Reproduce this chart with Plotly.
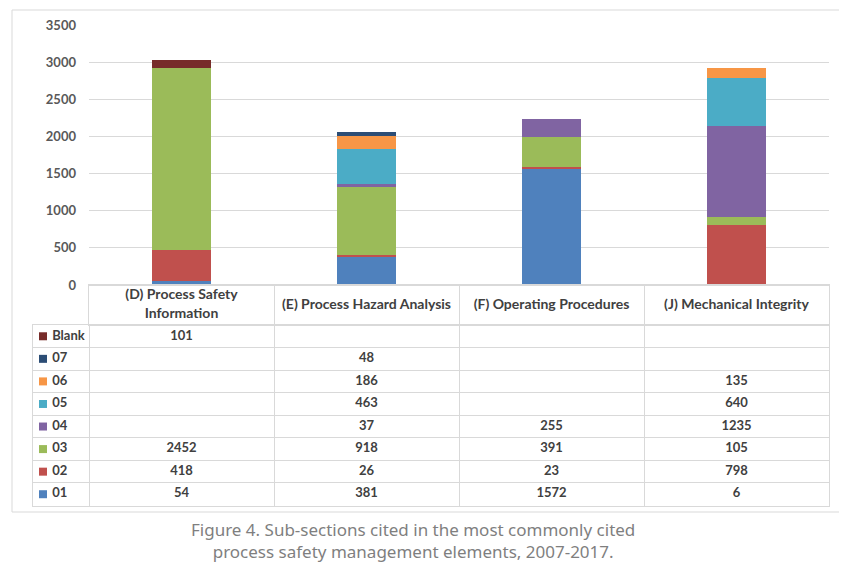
import plotly.graph_objects as go

# Elements (x categories) and header text for the data table
elements = ['(D) Process Safety Information', '(E) Process Hazard Analysis',
            '(F) Operating Procedures', '(J) Mechanical Integrity']
header_labels = ['(D) Process Safety<br>Information', '(E) Process Hazard Analysis',
                 '(F) Operating Procedures', '(J) Mechanical Integrity']

# Sub-section citation counts (None = no citation)
sections = ['01', '02', '03', '04', '05', '06', '07', 'Blank']
s01 = [54, 381, 1572, 6]
s02 = [418, 26, 23, 798]
s03 = [2452, 918, 391, 105]
s04 = [None, 37, 255, 1235]
s05 = [None, 463, None, 640]
s06 = [None, 186, None, 135]
s07 = [None, 48, None, None]
s_blank = [101, None, None, None]

colors = ['#4F81BD', '#C0504D', '#9BBB59', '#8064A2', '#4BACC6', '#F79646', '#2C4D75', '#772C2A']
series = [s01, s02, s03, s04, s05, s06, s07, s_blank]

# page body has an 8px margin, so the figure is a bit smaller and shifted
OFF = 8
W, H = 847 - OFF, 564 - OFF
def px_x(x):
    return (x - OFF) / W
def px_y(y):
    return 1 - (y - OFF) / H

FONT = 'Lato'
TXT = '#404040'
GRID = '#d9d9d9'

col_px = 185.0                # width of one element column in pixels
leg_w = 56 / col_px           # legend column width in category units
cols = list(range(len(elements)))

fig = go.Figure()

# Stacked bars
for name, vals, col in zip(sections, series, colors):
    fig.add_trace(go.Bar(
        x=elements, y=vals, name=name,
        marker=dict(color=col, line=dict(width=0)),
        width=0.315, showlegend=False, xaxis='x', yaxis='y'
    ))

# Data table: header row on x3/y3
fig.add_trace(go.Scatter(
    x=cols, y=[0.5] * len(cols), text=header_labels, mode='text',
    textposition='middle center', xaxis='x3', yaxis='y3', showlegend=False,
    textfont=dict(family=FONT, size=14, color=TXT, weight='bold'), cliponaxis=False
))

# Data table body on x2/y2 (01 at row 0, Blank at row 7)
for row, vals in enumerate(series):
    fig.add_trace(go.Scatter(
        x=cols, y=[row] * len(cols),
        text=['' if v is None else str(v) for v in vals],
        mode='text', textposition='middle center', xaxis='x2', yaxis='y2',
        showlegend=False, cliponaxis=False,
        textfont=dict(family=FONT, size=13, color=TXT, weight='bold')
    ))

# Legend column of the table
fig.add_trace(go.Scatter(
    x=[-0.5 - leg_w + 10 / col_px] * len(sections), y=list(range(len(sections))),
    text=[' ' + s for s in sections], mode='markers+text', textposition='middle right',
    marker=dict(symbol='square', size=8, color=colors),
    xaxis='x2', yaxis='y2', showlegend=False, cliponaxis=False,
    textfont=dict(family=FONT, size=13, color=TXT, weight='bold')
))

# Caption
fig.add_annotation(x=px_x(413), y=px_y(540), xref='paper', yref='paper',
                   text='Figure 4. Sub-sections cited in the most commonly cited<br>'
                        'process safety management elements, 2007-2017.',
                   showarrow=False, xanchor='center', yanchor='middle',
                   font=dict(family='Noto Sans', size=17, color='#7f7f7f'))

# Outer chart border
fig.add_shape(type='rect', xref='paper', yref='paper',
              x0=px_x(12), x1=px_x(841), y0=px_y(512), y1=px_y(10),
              line=dict(color=GRID, width=1), fillcolor='rgba(0,0,0,0)', layer='below')

line = dict(showline=True, linecolor=GRID, linewidth=1, mirror=True)
hidden = dict(showticklabels=False, ticks='', zeroline=False, automargin=False)

fig.update_layout(
    barmode='stack',
    width=W, height=H,
    margin=dict(l=0, r=0, t=0, b=0, autoexpand=False),
    paper_bgcolor='white', plot_bgcolor='white',
    xaxis=dict(domain=[px_x(89), px_x(829)], range=[-0.5, 3.5], showgrid=False,
               showline=True, linecolor=GRID, linewidth=1, **hidden),
    yaxis=dict(domain=[px_y(285), px_y(25)], range=[0, 3500], dtick=500,
               showgrid=True, gridcolor=GRID, gridwidth=1, zeroline=False, ticks='',
               automargin=False, ticklabelstandoff=12,
               tickfont=dict(family=FONT, size=13, color='#595959', weight='bold')),
    xaxis3=dict(domain=[px_x(89), px_x(829)], range=[-0.5, 3.5], anchor='y3',
                tickvals=[0.5, 1.5, 2.5], showgrid=True, gridcolor=GRID, **line, **hidden),
    yaxis3=dict(domain=[px_y(325), px_y(285)], range=[0, 1], anchor='x3',
                showgrid=False, **line, **hidden),
    xaxis2=dict(domain=[px_x(33), px_x(829)], range=[-0.5 - leg_w, 3.5], anchor='y2',
                tickvals=[-0.5, 0.5, 1.5, 2.5], showgrid=True, gridcolor=GRID,
                **line, **hidden),
    yaxis2=dict(domain=[px_y(505.5), px_y(325)], range=[-0.5, 7.5], anchor='x2',
                tickvals=[0.5, 1.5, 2.5, 3.5, 4.5, 5.5, 6.5], showgrid=True,
                gridcolor=GRID, **line, **hidden),
)

fig.write_html('out.html')
